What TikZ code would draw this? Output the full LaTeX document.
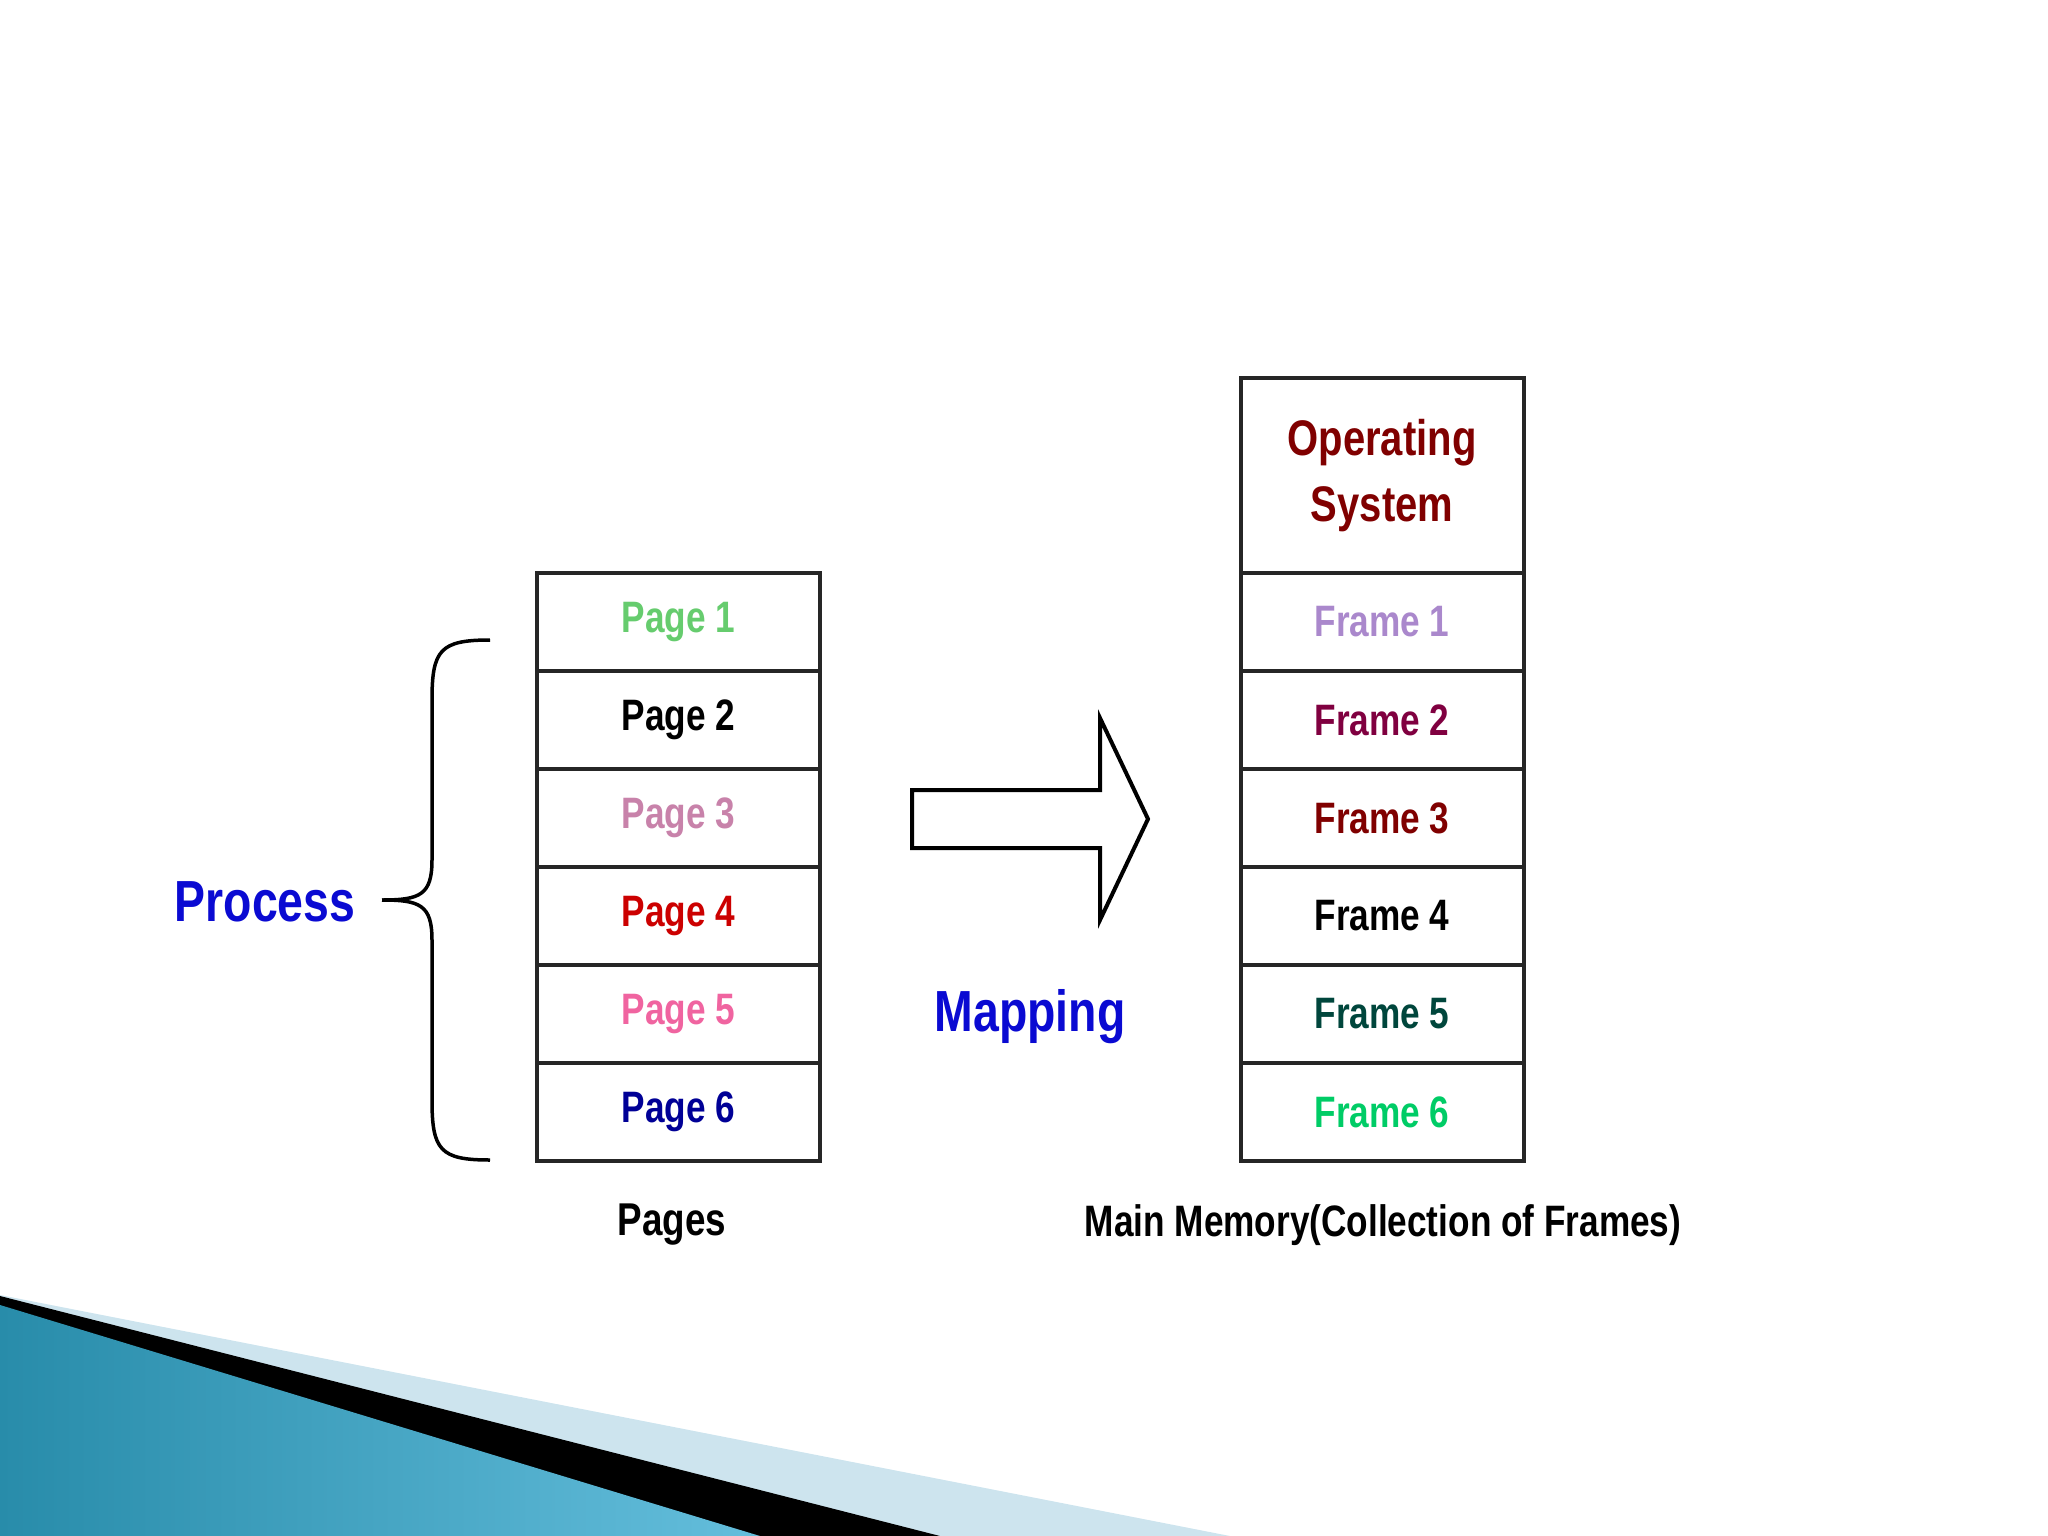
\documentclass[tikz,border=0pt]{standalone}
\usepackage{fontspec}
\setmainfont[FakeStretch=0.8]{Liberation Sans}
\usetikzlibrary{shapes.arrows,decorations.pathreplacing}
\definecolor{pg1}{RGB}{102,204,110}
\definecolor{pg3}{RGB}{200,130,170}
\definecolor{pg4}{RGB}{204,0,0}
\definecolor{pg5}{RGB}{240,100,160}
\definecolor{pg6}{RGB}{0,0,150}
\definecolor{fr1}{RGB}{170,136,204}
\definecolor{fr2}{RGB}{128,0,64}
\definecolor{fr3}{RGB}{128,0,0}
\definecolor{fr5}{RGB}{0,70,60}
\definecolor{fr6}{RGB}{0,204,102}
\definecolor{blu}{RGB}{10,10,210}
\definecolor{teal1}{RGB}{40,140,170}
\definecolor{teal2}{RGB}{100,190,220}
\definecolor{lblue}{RGB}{205,228,238}
\tikzset{cell/.style={draw=black!85,line width=4pt,minimum width=283pt,minimum height=98pt,inner sep=0pt,font=\bfseries\fontsize{44}{50}\selectfont},
lbl/.style={font=\bfseries\fontsize{46}{52}\selectfont}}
\begin{document}
\begin{tikzpicture}[x=1pt,y=-1pt]
\useasboundingbox (0,0) rectangle (2048,1536);
% decoration
\fill[lblue] (0,1295) -- (1230,1536) -- (0,1536) -- cycle;
\fill[black] (0,1296) -- (940,1536) -- (0,1536) -- cycle;
\shade[left color=teal1,right color=teal2] (0,1305) -- (760,1536) -- (0,1536) -- cycle;
% pages
\foreach \i/\c in {1/pg1,2/black,3/pg3,4/pg4,5/pg5,6/pg6}{
 \node[cell,text=\c] (p\i) at (678.5,{573+98*(\i-1)+49}) {Page \i};}
\node[cell,minimum height=195pt,font=\bfseries\fontsize{50}{66}\selectfont,text=fr3,align=center] (os) at (1382,475.5) {Operating\\System};
\foreach \i/\c in {1/fr1,2/fr2,3/fr3,4/black,5/fr5,6/fr6}{
 \node[cell,text=\c] (f\i) at (1382,{573+98*(\i-1)+49}) {Frame \i};}
\node[lbl,text=blu,font=\bfseries\fontsize{58}{64}\selectfont] (proc) at (265,902) {Process};
\draw[line width=3.5pt] (490,640) .. controls (440,640) and (432,650) .. (432,700) -- (432,860) .. controls (432,895) and (420,900) .. (382,900);
\draw[line width=3.5pt] (490,1160) .. controls (440,1160) and (432,1150) .. (432,1100) -- (432,940) .. controls (432,905) and (420,900) .. (382,900);
\draw[line width=4pt,fill=white] (912,790) -- (1100,790) -- (1100,718) -- (1148,819) -- (1100,920) -- (1100,848) -- (912,848) -- cycle;
\node[lbl,text=blu,font=\bfseries\fontsize{58}{64}\selectfont] (map) at (1030,1017) {Mapping};
\node[lbl] (pl) at (672,1225) {Pages};
\node[lbl,font=\bfseries\fontsize{44}{50}\selectfont] (ml) at (1383,1225) {Main Memory(Collection of Frames)};
\end{tikzpicture}
\end{document}
